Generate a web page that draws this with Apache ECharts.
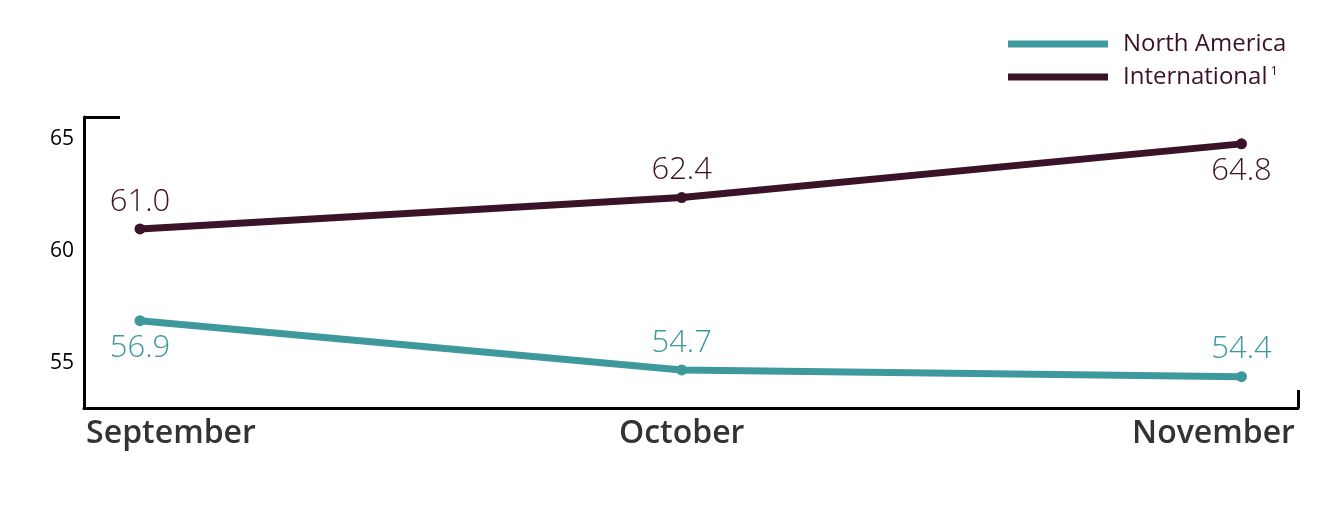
<!DOCTYPE html>
<html>
<head>
<meta charset="utf-8">
<script src="https://cdn.jsdelivr.net/npm/echarts@6/dist/echarts.min.js"></script>
<style>
html,body{margin:0;padding:0;background:#fff;}
#c{width:1335px;height:519px;}
</style>
</head>
<body>
<div id="c"></div>
<script>
const months = ['September', 'October', 'November'];
const monthDates = ['2023-09-01', '2023-10-01', '2023-11-01'];
const northAmerica = [56.9, 54.7, 54.4];
const international = [61.0, 62.4, 64.8];
const yTicks = [55, 60, 65];

const tealColor = '#3e999d';
const darkColor = '#3b1329';
const fontFam = '"Open Sans", Lato, sans-serif';

const naLabelPos = ['bottom', 'top', 'top'];
const intLabelPos = ['top', 'top', 'bottom'];

const DAY = 86400000;
const t0 = Date.parse(monthDates[0] + 'T00:00:00Z');
// day offsets from the first month start
const days = monthDates.map(d => Math.round((Date.parse(d + 'T00:00:00Z') - t0) / DAY));

function buildData(vals, positions) {
  return vals.map((v, i) => ({
    value: [days[i], v],
    label: { position: positions[i] }
  }));
}

const xMin = days[0] - 3.1;
const xMax = days[days.length - 1] + 3.13;
const xFont = { fontFamily: fontFam, fontSize: 32, fontWeight: 600, color: '#333' };

const chart = echarts.init(document.getElementById('c'));
chart.setOption({
  animation: false,
  grid: { left: 84, right: 37, top: 117, bottom: 111, containLabel: false },
  legend: {
    orient: 'vertical',
    left: 1003,
    top: 26,
    icon: 'rect',
    itemWidth: 100,
    itemHeight: 7,
    itemGap: 7,
    data: ['North America', 'International'],
    textStyle: {
      fontFamily: fontFam,
      fontSize: 24,
      color: darkColor,
      lineHeight: 26,
      padding: [0, 0, 0, 10],
      rich: {
        sup: { fontSize: 13, color: darkColor, padding: [0, 0, 12, 3], fontFamily: fontFam }
      }
    },
    formatter: function (name) {
      return name === 'International' ? 'International{sup|1}' : name;
    }
  },
  xAxis: {
    type: 'value',
    min: xMin,
    max: xMax,
    splitLine: { show: false },
    axisLine: { show: true, onZero: false, lineStyle: { color: '#000', width: 3 } },
    axisTick: {
      show: true, inside: true, length: 18,
      customValues: [xMax],
      lineStyle: { color: '#000', width: 3 }
    },
    axisLabel: {
      customValues: days,
      margin: 10,
      fontFamily: fontFam,
      fontSize: 32,
      fontWeight: 600,
      color: '#333',
      formatter: function (v) {
        let i = 0, best = Infinity;
        days.forEach((t, k) => { const d = Math.abs(t - v); if (d < best) { best = d; i = k; } });
        return '{m' + i + '|' + months[i] + '}';
      },
      rich: {
        m0: Object.assign({}, xFont, { padding: [0, 0, 0, 62] }),
        m1: Object.assign({}, xFont),
        m2: Object.assign({}, xFont, { padding: [0, 56, 0, 0] })
      }
    }
  },
  yAxis: {
    type: 'value',
    min: 53,
    max: 66,
    splitLine: { show: false },
    axisLine: { show: true, onZero: false, lineStyle: { color: '#000', width: 3 } },
    axisTick: {
      show: true, inside: true, length: 36,
      customValues: [66],
      lineStyle: { color: '#000', width: 3 }
    },
    axisLabel: {
      customValues: yTicks,
      margin: 10,
      fontFamily: fontFam,
      fontSize: 21,
      color: '#000'
    }
  },
  series: [
    {
      name: 'North America',
      type: 'line',
      data: buildData(northAmerica, naLabelPos),
      color: tealColor,
      lineStyle: { width: 7, color: tealColor },
      symbol: 'circle',
      symbolSize: 11,
      itemStyle: { color: tealColor },
      label: {
        show: true,
        distance: 6,
        fontFamily: fontFam,
        fontSize: 31,
        fontWeight: 300,
        color: tealColor,
        formatter: p => p.value[1].toFixed(1)
      }
    },
    {
      name: 'International',
      type: 'line',
      data: buildData(international, intLabelPos),
      color: darkColor,
      lineStyle: { width: 7, color: darkColor },
      symbol: 'circle',
      symbolSize: 11,
      itemStyle: { color: darkColor },
      label: {
        show: true,
        distance: 6,
        fontFamily: fontFam,
        fontSize: 31,
        fontWeight: 300,
        color: darkColor,
        formatter: p => p.value[1].toFixed(1)
      }
    }
  ]
});
</script>
</body>
</html>
